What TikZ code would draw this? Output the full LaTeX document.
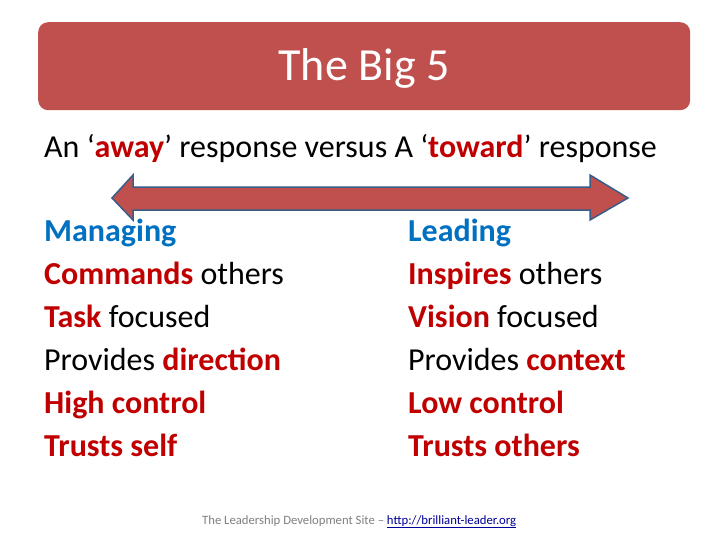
\documentclass[tikz,border=0pt]{standalone}
\usepackage{fontspec}
\setmainfont{Carlito}
\definecolor{boxred}{HTML}{C0504D}
\definecolor{dred}{HTML}{C00000}
\definecolor{mblue}{HTML}{0070C0}
\definecolor{edge}{HTML}{385D8A}
\begin{document}
\begin{tikzpicture}[x=1pt,y=-1pt,
  line/.style={anchor=base west,inner sep=0pt,font=\fontsize{32}{36}\selectfont},
  r/.style={text=dred}]
\useasboundingbox (0,0) rectangle (728,546);
\fill[white] (0,0) rectangle (728,546);
\node[fill=boxred,rounded corners=10pt,minimum width=652pt,minimum height=88pt,anchor=north west,inner sep=0pt] (title) at (38,22) {};
\node[text=white,font=\fontsize{46}{50}\selectfont] (tt) at (364,68) {The Big 5};
\node[line] (sub) at (44,157) {An ‘\textbf{\color{dred}away}’ response versus A ‘\textbf{\color{dred}toward}’ response};
\draw[edge,line width=1.5pt,fill=boxred,line join=miter] (112,198) -- (133,175) -- (133,187) -- (590,187) -- (590,175) -- (628,198) -- (590,220) -- (590,210) -- (133,210) -- (133,220) -- cycle;
\node[line,text=mblue] (l1) at (44,241) {\textbf{Managing}};
\node[line] (l2) at (44,284) {\textbf{\color{dred}Commands} others};
\node[line] (l3) at (44,327) {\textbf{\color{dred}Task} focused};
\node[line] (l4) at (44,370) {Provides \textbf{\color{dred}direction}};
\node[line,r] (l5) at (44,413) {\textbf{High control}};
\node[line,r] (l6) at (44,456) {\textbf{Trusts self}};
\node[line,text=mblue] (r1) at (408,241) {\textbf{Leading}};
\node[line] (r2) at (408,284) {\textbf{\color{dred}Inspires} others};
\node[line] (r3) at (408,327) {\textbf{\color{dred}Vision} focused};
\node[line] (r4) at (408,370) {Provides \textbf{\color{dred}context}};
\node[line,r] (r5) at (408,413) {\textbf{Low control}};
\node[line,r] (r6) at (408,456) {\textbf{Trusts others}};
\node[anchor=base west,inner sep=0pt,font=\fontsize{12.7}{14}\selectfont,text=gray] (foot) at (202,524) {The Leadership Development Site – {\color{blue!60!black}\underline{http://brilliant-leader.org}}};
\end{tikzpicture}
\end{document}
